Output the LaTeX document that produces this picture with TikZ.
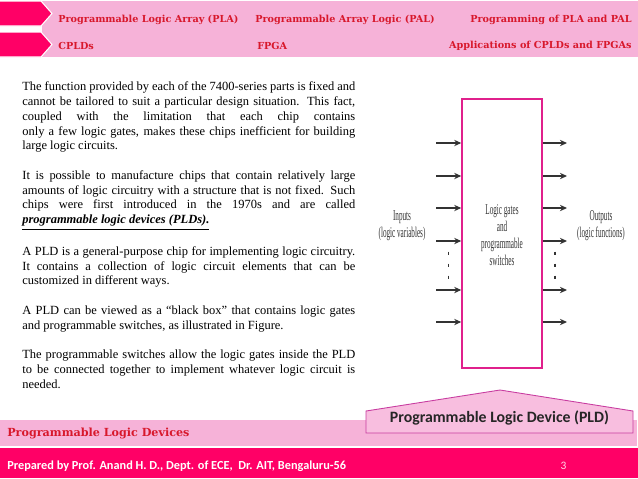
\documentclass[tikz,border=0pt]{standalone}
\usepackage{fontspec}
\setmainfont{Liberation Serif}
\newfontfamily\headfont{DejaVu Serif}
\newfontfamily\footfont{Carlito}
\usetikzlibrary{positioning,arrows.meta}
\definecolor{bandpink}{HTML}{F6B2D8}
\definecolor{deeppink}{HTML}{FF0066}
\definecolor{boxpink}{HTML}{E0208C}
\definecolor{headred}{HTML}{D8182C}
\definecolor{calloutpink}{HTML}{F8BEDF}
\definecolor{calloutline}{HTML}{C83CA0}
\tikzset{
    headlabel/.style={inner sep=0pt, text=headred, font=\headfont\bfseries\fontsize{5.5}{7}\selectfont},
    pentagon/.style={fill=deeppink, draw=white, line width=0.6pt},
    pinlabel/.style={inner sep=0pt, align=center, text=black!80, font=\fontsize{8.5}{9.7}\selectfont, xscale=0.48, transform shape},
    pinarrow/.style={thick, black!80, -{Stealth[length=4pt,width=3.6pt]}},
    pindot/.style={black!80, line width=0.9pt},
}
\begin{document}
\begin{tikzpicture}[x=0.02cm,y=-0.02cm]

    \useasboundingbox (0,0) rectangle (638,478);
    \fill[white] (0,0) rectangle (638,478);

    \fill[bandpink] (42,1) rectangle (638,57);
    \draw[pentagon] (-1,1) -- (41,1) -- (52,13.5) -- (41,26) -- (-1,26) -- cycle;
    \draw[pentagon] (-1,32) -- (41,32) -- (52,44.5) -- (41,57) -- (-1,57) -- cycle;

    \node[headlabel, anchor=west] (pla) at (58,19.5) {Programmable Logic Array (PLA)};
    \node[headlabel, anchor=west] (pal) at (255,19.5) {Programmable Array Logic (PAL)};
    \node[headlabel, anchor=east] (prog) at (632,19.5) {Programming of PLA and PAL};
    \node[headlabel, anchor=west] (cplds) at (58,45.5) {CPLDs};
    \node[headlabel, anchor=west] (fpga) at (257,45.5) {FPGA};
    \node[headlabel, anchor=east] (apps) at (632,45.5) {Applications of CPLDs and FPGAs};

    \node[anchor=north west, inner sep=0pt, text width=6.66cm, align=justify,
        font=\fontsize{7.1}{8.42}\selectfont] (body) at (22,81.5) {%
        The function provided by each of the 7400-series parts is fixed and\linebreak cannot be tailored to suit a particular design situation. This fact,\linebreak coupled with the limitation that each chip contains\linebreak only a few logic gates, makes these chips inefficient for building\linebreak large logic circuits.\par\vspace{8.42pt}
        It is possible to manufacture chips that contain relatively large\linebreak amounts of logic circuitry with a structure that is not fixed. Such\linebreak chips were first introduced in the 1970s and are called\linebreak \textbf{\textit{\underline{programmable logic devices (PLDs).}}}\par\vspace{8.42pt}
        A PLD is a general-purpose chip for implementing logic circuitry.\linebreak It contains a collection of logic circuit elements that can be\linebreak customized in different ways.\par\vspace{8.42pt}
        A PLD can be viewed as a ``black box'' that contains logic gates\linebreak and programmable switches, as illustrated in Figure.\par\vspace{8.42pt}
        The programmable switches allow the logic gates inside the PLD\linebreak to be connected together to implement whatever logic circuit is\linebreak needed.};

    \node[draw=boxpink, line width=0.9pt, minimum width=1.6cm, minimum height=5.38cm, inner sep=0pt] (pld) at (502,233.5) {};

    \foreach \i/\y in {1/143,2/176,3/208,4/241,5/290,6/322} {
        \coordinate (in\i) at (436,\y);
        \coordinate (out\i) at (567,\y);
        \draw[pinarrow] (in\i) -- (in\i -| pld.west);
        \draw[pinarrow] (out\i -| pld.east) -- (out\i);
    }

    \foreach \y in {253,265,277} {
        \draw[pindot] (448.5,\y-1.5) -- (448.5,\y+1.5);
        \draw[pindot] (555,\y-1.5) -- (555,\y+1.5);
    }

    \node[pinlabel] (inputs) at (402,226) {Inputs\\(logic variables)};
    \node[pinlabel] (outputs) at (601,226) {Outputs\\(logic functions)};
    \node[pinlabel] (gates) at (502,235.5) {Logic gates\\and\\programmable\\switches};

    \fill[bandpink] (0,420) rectangle (637,446);
    \fill[deeppink] (0,448) rectangle (638,478);

    \node[headlabel, anchor=west, font=\headfont\bfseries\fontsize{6.35}{7}\selectfont] (section) at (7,433.5) {Programmable Logic Devices};
    \draw[fill=calloutpink, draw=calloutline, line width=0.5pt] (366,433) -- (366,411) -- (500,390) -- (633,411) -- (633,433) -- cycle;
    \node[inner sep=0pt, font=\footfont\bfseries\fontsize{9}{11}\selectfont, text=black!85] (title) at (499.5,417.5) {Programmable Logic Device (PLD)};

    \node[anchor=west, inner sep=0pt, text=white, font=\footfont\bfseries\fontsize{7}{10}\selectfont] (prepared) at (7,466) {Prepared by Prof. Anand H. D., Dept. of ECE,\ \ Dr. AIT, Bengaluru-56};
    \node[inner sep=0pt, text=white!85!deeppink, font=\footfont\fontsize{6.5}{8}\selectfont] (page) at (563.5,466) {3};

\end{tikzpicture}
\end{document}
